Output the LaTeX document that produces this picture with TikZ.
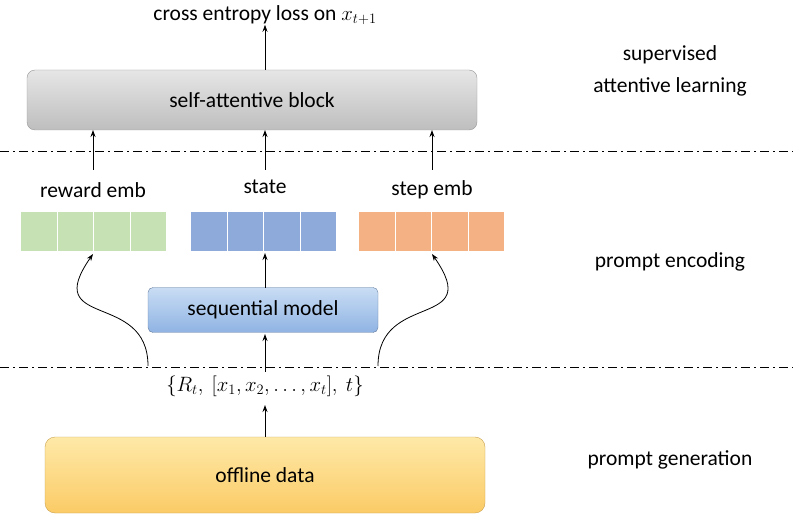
\documentclass[tikz,border=0pt]{standalone}
\usepackage{fontspec}
\setmainfont{Carlito}
\usetikzlibrary{arrows.meta}
\begin{document}
\begin{tikzpicture}[x=1pt,y=-1pt,
  txt/.style={font=\fontsize{21.5}{25}\selectfont, inner sep=0pt},
  arr/.style={-{Stealth[length=7pt,width=5pt]}, line width=0.9pt},
  sep/.style={line width=1pt, dash pattern=on 9pt off 4pt on 2pt off 4pt},
  cell/.style={draw=white, line width=1.2pt, minimum width=36.5pt, minimum height=40pt, inner sep=0pt, anchor=north west}]
\useasboundingbox (0,0) rectangle (793,529);
\definecolor{gA}{HTML}{E6E6E6}\definecolor{gB}{HTML}{BEBEBE}
\definecolor{bA}{HTML}{C9DDF4}\definecolor{bB}{HTML}{8FB3E3}
\definecolor{oA}{HTML}{FEE9A8}\definecolor{oB}{HTML}{FBCB66}
\definecolor{cg}{HTML}{C6E2B5}\definecolor{cb}{HTML}{8EAADB}\definecolor{co}{HTML}{F4B183}
% top
\node[txt] (loss) at (265,15) {cross entropy loss on $x_{t+1}$};
\node[draw=gB!80!black, rounded corners=8pt, top color=gA, bottom color=gB, minimum width=450pt, minimum height=60pt, txt] (sab) at (252,100) {self-attentive block};
\draw[arr] (sab.north -| loss) -- (loss.south);
\draw[sep] (0,152) -- (793,152);
% labels
\node[txt] (rl) at (93,190) {reward emb};
\node[txt] (sl) at (265,187) {state};
\node[txt] (tl) at (432,190) {step emb};
\draw[arr] (93,170) -- (93,130) coordinate (a1);
\draw[arr] (265,170) -- (265,130);
\draw[arr] (432,170) -- (432,130);
% cells
\foreach \i in {0,1,2,3}{
  \node[cell, fill=cg] (g\i) at (20+\i*36.5,211) {};
  \node[cell, fill=cb] (b\i) at (190+\i*36.5,211) {};
  \node[cell, fill=co] (o\i) at (358+\i*36.5,211) {};
}
% sequential model
\node[draw=bB!70!black, rounded corners=5pt, top color=bA, bottom color=bB, minimum width=230pt, minimum height=45pt, txt] (seq) at (263,310) {sequential model};
\draw[arr] (265,288) -- (265,253);
\draw[sep] (0,368) -- (793,368);
\node[txt] (inp) at (265,386) {$\{R_t,\ [x_1,x_2,\ldots,x_t],\ t\}$};
\draw[arr] (265,372) -- (265,334);
\draw[arr, line width=0.8pt] (148,366) .. controls (148,290) and (40,330) .. (93,254);
\draw[arr, line width=0.8pt] (378,366) .. controls (378,290) and (485,330) .. (432,254);
% offline
\node[draw=oB!80!black, rounded corners=10pt, top color=oA, bottom color=oB, minimum width=440pt, minimum height=76pt, txt] (off) at (265,475) {offline data};
\draw[arr] (off.north) -- (265,405);
% right labels
\node[txt] at (670,55) {supervised};
\node[txt] at (670,87) {attentive learning};
\node[txt] at (670,262) {prompt encoding};
\node[txt] at (670,460) {prompt generation};
\end{tikzpicture}
\end{document}
